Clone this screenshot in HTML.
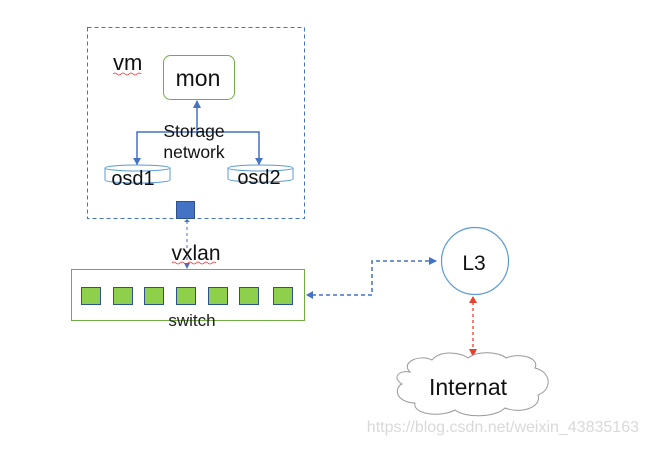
<!DOCTYPE html>
<html><head><style>
body{margin:0;background:#fff;}
svg text{font-family:"Liberation Sans",sans-serif;}
</style></head><body>
<svg width="648" height="444" viewBox="0 0 648 444" xmlns="http://www.w3.org/2000/svg">
<defs>
<marker id="ab" markerWidth="8" markerHeight="8" refX="7" refY="4" orient="auto" markerUnits="userSpaceOnUse"><path d="M0,0 L8,4 L0,8 z" fill="#4472c4"/></marker>
<marker id="ar" markerWidth="8" markerHeight="8" refX="7" refY="4" orient="auto" markerUnits="userSpaceOnUse"><path d="M0,0 L8,4 L0,8 z" fill="#e8402f"/></marker>
</defs>
<rect x="87.5" y="27.5" width="217" height="191" fill="none" stroke="#4472c4" stroke-dasharray="4,3"/>
<text x="113" y="70" font-size="22" fill="#111">vm</text>
<path d="M113,74 q2,-2 4,0 t4,0 t4,0 t4,0 t4,0 t4,0 t4,0" stroke="#e33" fill="none" stroke-width="0.8"/>
<rect x="163.5" y="55.5" width="71" height="44" rx="7" fill="#fff" stroke="#70ad47"/>
<text x="198" y="86" font-size="23" text-anchor="middle" fill="#111">mon</text>
<line x1="197" y1="132" x2="197" y2="101" stroke="#4472c4" stroke-width="1.5" marker-end="url(#ab)"/>
<polyline points="137,165 137,132 259,132 259,165" fill="none" stroke="#4472c4" stroke-width="1.5"/>
<path d="M133,158 L137,165 L141,158z M255,158 L259,165 L263,158z" fill="#4472c4"/>
<text x="194" y="137" font-size="17.5" text-anchor="middle" fill="#111">Storage</text>
<text x="194" y="158" font-size="17.5" text-anchor="middle" fill="#111">network</text>
<g fill="#fff" stroke="#5b9bd5">
<path d="M105,168 v12 a32.5,3 0 0 0 65,0 v-12"/>
<ellipse cx="137.5" cy="168" rx="32.5" ry="3"/>
<path d="M228,168 v11 a32.5,3 0 0 0 65,0 v-11"/>
<ellipse cx="260.5" cy="168" rx="32.5" ry="3"/>
</g>
<text x="133" y="185" font-size="20" text-anchor="middle" fill="#111">osd1</text>
<text x="259" y="184" font-size="20" text-anchor="middle" fill="#111">osd2</text>
<rect x="176.5" y="201.5" width="18" height="17" fill="#4472c4" stroke="#2f528f"/>
<line x1="187" y1="221" x2="187" y2="268" stroke="#4472c4" stroke-dasharray="3,3"/>
<path d="M184,222 L187,219 L190,222z M184,263 L187,269 L190,263z" fill="#4472c4"/>
<text x="196" y="260" font-size="21" text-anchor="middle" fill="#111">vxlan</text>
<path d="M172,263 q2,-2 4,0 t4,0 t4,0 t4,0 t4,0 t4,0 t4,0 t4,0 t4,0 t4,0 t4,0" stroke="#e33" fill="none" stroke-width="0.8"/>
<rect x="71.5" y="269.5" width="233" height="51" fill="#fff" stroke="#70ad47"/>
<g fill="#8ed04b" stroke="#2f528f">
<rect x="81.5" y="287.5" width="19" height="17"/><rect x="113.5" y="287.5" width="19" height="17"/>
<rect x="144.5" y="287.5" width="19" height="17"/><rect x="176.5" y="287.5" width="19" height="17"/>
<rect x="208.5" y="287.5" width="19" height="17"/><rect x="239.5" y="287.5" width="19" height="17"/>
<rect x="273.5" y="287.5" width="19" height="17"/>
</g>
<text x="192" y="326" font-size="17" text-anchor="middle" fill="#222">switch</text>
<polyline points="312,295 372,295 372,261 436,261" fill="none" stroke="#4472c4" stroke-width="1.5" stroke-dasharray="4,3" marker-end="url(#ab)"/>
<path d="M313,291 L306,295 L313,299z" fill="#4472c4"/>
<circle cx="475" cy="261" r="33.5" fill="#fff" stroke="#5b9bd5" stroke-width="1.2"/>
<text x="474" y="270" font-size="21" text-anchor="middle" fill="#111">L3</text>
<line x1="473" y1="302" x2="473" y2="356" stroke="#e8402f" stroke-width="1.3" stroke-dasharray="3,3" marker-end="url(#ar)"/>
<path d="M469,303 L473,296 L477,303z" fill="#e8402f"/>
<path d="M410,372 C400,362 420,354 432,360 C440,350 460,352 468,358 C478,350 500,352 506,358 C520,352 540,358 535,368 C552,372 552,390 538,395 C542,408 520,414 505,408 C495,418 465,418 455,410 C440,418 412,414 415,403 C395,402 394,388 402,384 C392,378 398,370 410,372 Z" fill="#fff" stroke="#999"/>
<text x="468" y="395" font-size="23" text-anchor="middle" fill="#111">Internat</text>
<text x="639" y="432" font-size="16" text-anchor="end" fill="#d9d9d9">https://blog.csdn.net/weixin_43835163</text>
</svg>
</body></html>
